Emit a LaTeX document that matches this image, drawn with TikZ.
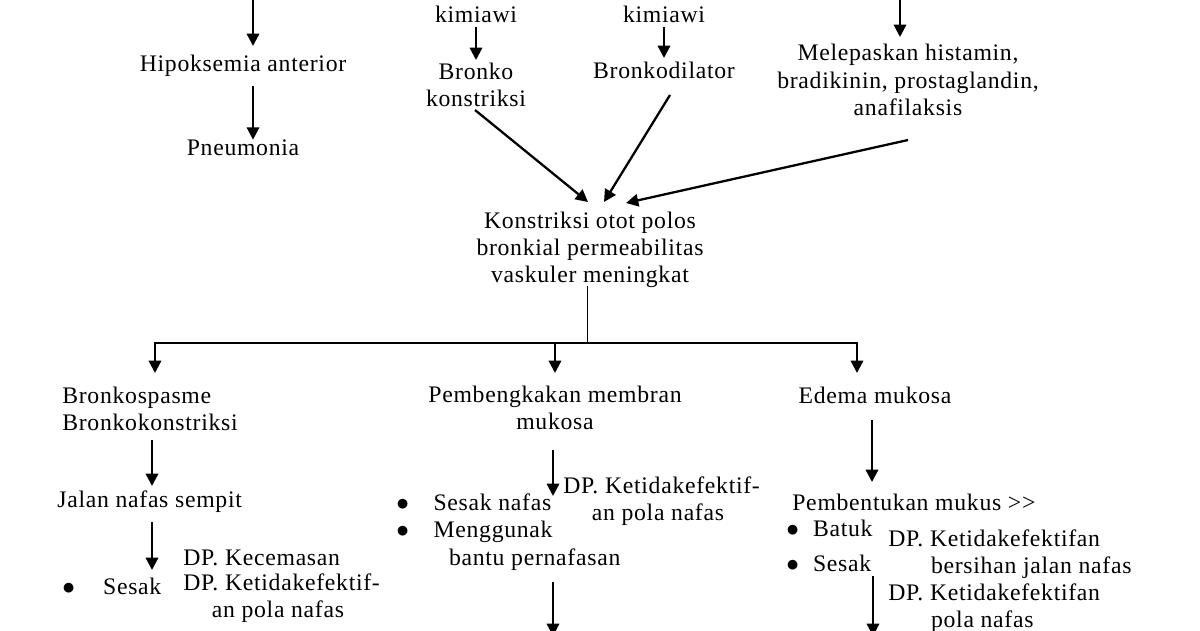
\documentclass[tikz,border=0pt]{standalone}
\usepackage{fontspec}
\setmainfont{Liberation Serif}[LetterSpace=3]
\usetikzlibrary{arrows.meta}
\begin{document}
\begin{tikzpicture}[x=0.02cm,y=-0.02cm,
  t/.style={inner sep=0pt,font=\fontsize{13.5}{15.5}\selectfont,align=center},
  tl/.style={t,anchor=west,align=left},
  ar/.style={line width=1.3pt,-{Triangle[length=7pt,width=7pt]}},
  ln/.style={line width=1.3pt}]
\useasboundingbox (0,0) rectangle (1200,630);
% top left
\coordinate (a0) at (253,-2);
\node[t] (hip) at (243,66) {Hipoksemia anterior};
\node[t] (pne) at (243,148) {Pneumonia};
\draw[ar] (a0) -- (253,46);
\draw[ar] (253,86) -- (pne.north -| 253,0);
% kimiawi
\node[t] (k1) at (476,14) {kimiawi};
\node[t] (bk) at (476,85) {Bronko\\konstriksi};
\draw[ar] (476,27) -- (476,60);
\node[t] (k2) at (664,14) {kimiawi};
\node[t] (bd) at (664,70) {Bronkodilator};
\draw[ar] (664,27) -- (664,58);
\coordinate (a1) at (900,-2);
\draw[ar] (a1) -- (900,37);
\node[t] (mel) at (908,80) {Melepaskan histamin,\\bradikinin, prostaglandin,\\anafilaksis};
\node[t] (kon) at (590,250) {Konstriksi otot polos\\bronkial permeabilitas\\vaskuler meningkat};
\draw[ar] (475,110) -- (588,202);
\draw[ar] (670,95) -- (604,202);
\draw[ar] (908,140) -- (626,203);
% distribution
\draw (587,286) -- (587,343);
\draw[ln] (155,343) -- (857,343);
\draw[ar] (155,342) -- (155,373);
\draw[ar] (555,342) -- (555,373);
\draw[ar] (857,342) -- (857,373);
% left column
\node[tl] (bs) at (62,409) {Bronkospasme\\Bronkokonstriksi};
\draw[ar] (152,440) -- (152,486);
\node[tl] (jn) at (57,502) {Jalan nafas sempit};
\draw[ar] (152,522) -- (152,570);
\node[tl] (ss1) at (62,586) {$\bullet$\hspace{16pt}Sesak};
\node[tl] (dk) at (183,558) {DP. Kecemasan};
\node[tl] (dp1) at (183,598) {DP. Ketidakefektif-\\\hspace{1.2em}an pola nafas};
% middle column
\node[t] (pm) at (555,408) {Pembengkakan membran\\mukosa};
\draw[ar] (553,450) -- (553,496);
\node[tl] (b2) at (396,532) {$\bullet$\hspace{14pt}Sesak nafas\\$\bullet$\hspace{14pt}Menggunak\\\hspace{30pt}bantu pernafasan};
\node[tl] (dp2) at (563,501) {DP. Ketidakefektif-\\\hspace{1.2em}an pola nafas};
\draw[ar] (553,582) -- (553,636);
% right column
\node[t] (em) at (875,395) {Edema mukosa};
\draw[ar] (872,420) -- (872,482);
\node[tl] (pmk) at (792,502) {Pembentukan mukus {>}{>}};
\node[tl] (b3) at (786,546) {$\bullet$\hspace{8pt}Batuk\\[4pt]$\bullet$\hspace{8pt}Sesak};
\node[tl] (dp3) at (888,554) {DP. Ketidakefektifan\\\hspace{1.8em}bersihan jalan nafas};
\node[tl] (dp4) at (888,608) {DP. Ketidakefektifan\\\hspace{1.8em}pola nafas};
\draw[ar] (873,576) -- (873,636);
\end{tikzpicture}
\end{document}
